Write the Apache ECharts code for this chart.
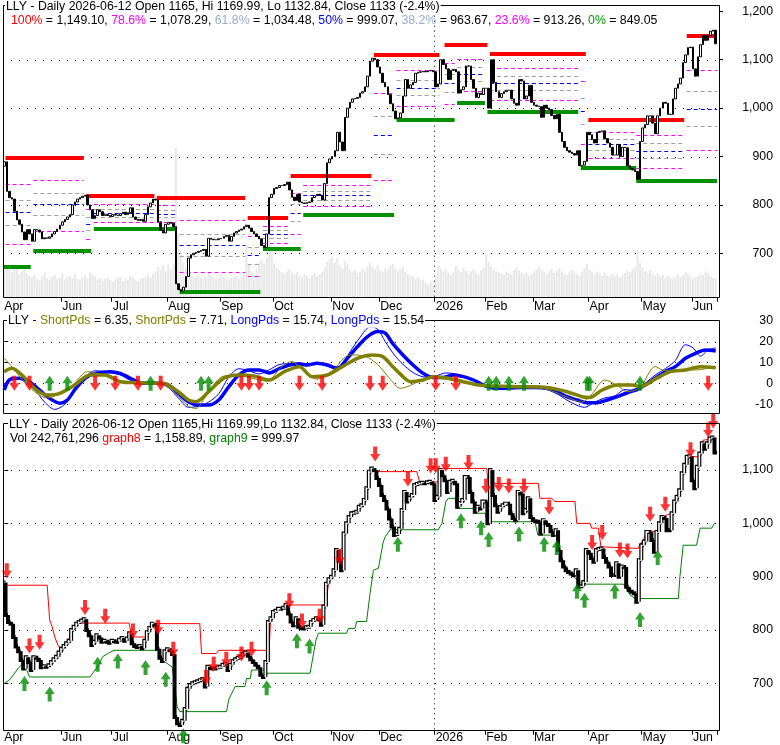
<!DOCTYPE html>
<html>
<head>
<meta charset="utf-8">
<script src="https://cdn.jsdelivr.net/npm/echarts@6/dist/echarts.min.js"></script>
<style>html,body{margin:0;padding:0;background:#fff}#chart{width:780px;height:745px}</style>
</head>
<body>
<div id="chart"></div>
<script>
// daily closes, 2025-04-29 .. 2026-06-12
var closes = [
  889, 828, 815, 812, 787, 769, 760, 744, 728, 749,
  740, 725, 749, 748, 744, 730, 732, 731, 734, 740,
  745, 750, 758, 765, 770, 775, 780, 800, 806, 812,
  815, 818, 820, 800, 790, 772, 778, 790, 786, 778,
  780, 778, 776, 780, 779, 778, 782, 785, 780, 784,
  794, 775, 770, 768, 770, 766, 780, 796, 804, 812,
  810, 765, 748, 742, 760, 764, 762, 755, 637, 625,
  622, 630, 652, 690, 697, 700, 702, 704, 706, 708,
  694, 731, 729, 728, 728, 730, 731, 735, 737, 725,
  735, 742, 745, 748, 750, 755, 758, 752, 745, 740,
  735, 730, 716, 712, 740, 815, 822, 834, 836, 840,
  840, 842, 847, 831, 816, 809, 822, 806, 804, 803,
  805, 806, 815, 819, 822, 820, 810, 844, 887, 895,
  900, 912, 950, 930, 912, 981, 1000, 1012, 1019, 1020,
  1022, 1031, 1034, 1044, 1066, 1097, 1103, 1100, 1085, 1072,
  1053, 1044, 1028, 1009, 994, 978, 980, 990, 1025, 1059,
  1041, 1048, 1053, 1072, 1074, 1075, 1076, 1075, 1077, 1078,
  1075, 1044, 1050, 1100, 1090, 1081, 1059, 1078, 1080, 1075,
  1031, 1038, 1044, 1087, 1087, 1059, 1041, 1022, 1031, 1028,
  1041, 1041, 1000, 1100, 1053, 1034, 1022, 1030, 1034, 1037,
  1037, 1019, 1010, 1006, 1059, 1056, 1019, 1025, 1047, 1012,
  1006, 1004, 1003, 981, 1006, 1000, 997, 985, 978, 987,
  950, 931, 919, 912, 909, 906, 903, 912, 881, 882,
  890, 950, 945, 935, 928, 950, 952, 953, 937, 928,
  919, 903, 903, 925, 900, 919, 918, 881, 875, 872,
  869, 853, 931, 959, 966, 984, 984, 969, 947, 984,
  1000, 1012, 1010, 987, 987, 1019, 1041, 1050, 1062, 1094,
  1110, 1125, 1126, 1081, 1066, 1106, 1131, 1150, 1140, 1150,
  1159, 1161, 1133
];
var firstOpen = 880;

// volume, millions
var volumes = [
  4.6, 4.1, 3.8, 3.5, 4.4, 3.9, 3.2, 3.6, 4.2, 3.3, 3.0,
  2.8, 3.1, 2.6, 2.4, 2.9, 3.4, 2.7, 2.5, 2.9, 3.1, 2.6, 2.8, 3.3, 2.5, 2.9, 3.0, 2.7, 3.2, 2.6, 2.4, 2.8, 3.0, 2.6, 3.4,
  3.1, 2.9, 2.5, 2.7, 2.3, 2.6, 2.8, 2.4, 2.2, 2.5, 2.7, 2.9, 2.3, 2.6, 2.4, 3.0, 2.8, 2.5, 2.2, 2.6, 2.7, 2.9, 3.1, 2.8, 3.3, 3.6, 4.2,
  3.8, 4.4, 3.6, 4.5, 3.9, 4.6, 20.5, 8.8,
  6.2, 4.8, 4.1, 3.5, 3.2, 3.0, 2.8, 3.1, 2.7, 2.6, 2.9, 3.5, 3.0, 2.7, 2.5, 2.8, 3.2, 2.9, 2.6, 2.4, 2.7, 2.8, 3.0, 2.6, 2.9, 3.3, 7.4,
  4.5, 3.6, 3.2, 3.9, 4.8, 5.2, 4.6, 5.5, 9.3, 6.4, 4.7, 4.1, 3.8, 3.5,
  3.3, 3.6, 3.9, 3.4, 3.1, 3.5, 3.0, 2.8, 3.2, 3.0, 2.7, 3.1, 3.4, 2.9, 3.2, 3.6, 4.2, 4.9, 5.3,
  5.6, 4.8, 5.5, 4.4, 4.0, 5.0, 4.6, 3.9, 3.5, 3.8, 3.4, 3.6, 4.0, 3.7, 4.3, 4.8, 4.2, 3.9, 4.5, 3.8, 3.6, 4.1, 3.9, 4.4,
  4.6, 4.0, 3.6, 3.9, 4.2, 3.5, 3.2, 3.0, 2.9, 2.6, 2.8, 2.4, 2.5, 2.1, 1.8, 2.2, 1.6, 2.8, 4.4,
  4.0, 3.6, 3.9, 3.4, 3.1, 3.5, 4.3, 3.8, 3.5, 4.1, 3.7, 3.3, 3.6, 3.9, 3.4, 3.2, 3.8, 4.2, 5.9, 4.9, 4.2, 3.8, 3.6,
  3.5, 3.3, 3.1, 3.6, 3.4, 3.2, 3.8, 4.1, 3.7, 3.5, 3.2, 3.4, 3.0, 3.3, 3.6, 3.9, 4.2, 3.8, 3.5, 3.3, 3.6, 3.9, 3.4, 3.7, 4.0, 3.6, 3.3, 3.1, 3.5, 3.8, 3.4, 3.2, 3.0, 3.6, 4.1, 4.6,
  3.9, 3.5, 3.2, 3.6, 3.3, 3.0, 3.4, 3.1, 2.9, 3.3, 3.0, 3.2, 2.8, 3.1, 3.4, 3.7, 3.5, 3.9, 4.2, 6.6, 4.8,
  4.1, 3.6, 3.4, 3.8, 3.2, 3.0, 3.3, 2.9, 3.1, 2.7, 3.0, 2.8, 2.6, 2.9, 3.2, 2.8, 3.1, 3.5, 3.3, 2.9, 2.6, 2.8, 3.0, 3.3, 3.1, 3.6, 3.4, 3.0, 2.7, 2.6
];

// month tick labels (bar index where each month starts)
var monthIdx = [0, 23, 43, 65, 86, 107, 130, 149, 171, 191, 210, 232, 253, 273];
var monthNames = ['Apr', 'Jun', 'Jul', 'Aug', 'Sep', 'Oct', 'Nov', 'Dec', '2026', 'Feb', 'Mar', 'Apr', 'May', 'Jun'];
var yearIdx = 171;

// resistance (red) and support (green) levels: [firstBar, lastBar, price]
var redLevels = [[1, 31, 897], [33, 59, 818], [61, 95, 814], [97, 112, 772], [114, 145, 860],
  [147, 172, 1110], [175, 191, 1130], [193, 230, 1112], [232, 269, 975], [271, 282, 1149.1]];
var greenLevels = [[0, 10, 672], [12, 34, 705], [36, 68, 750], [70, 101, 620], [103, 117, 708],
  [119, 154, 780], [156, 178, 975], [180, 190, 1010], [192, 227, 992], [229, 250, 876], [251, 282, 849.05]];
var fibRatios = [0.214, 0.382, 0.5, 0.618, 0.764];
var fibColors = ['#ff00ff', '#a0a0a0', '#0000ff', '#a0a0a0', '#ff00ff'];

// oscillator panel [bar, value]
var longThick = [[0,-3.2],[2,1.6],[6,2.4],[10,0.8],[14,-3.2],[18,-7.2],[22,-9.5],[25,-8],[28,-3],[32,2.4],[36,4.8],[42,5.6],[46,4.8],[50,2.4],[54,0.3],[57,0],[61,0],[65,-0.8],[69,-4.8],[73,-8.8],[77,-10.4],[81,-10.4],[85,-8],[89,-1.6],[93,4],[97,6.4],[101,6.4],[105,5],[109,7],[113,8.8],[117,9.3],[120,8.8],[124,9.6],[128,8.8],[132,7.2],[136,12],[140,17.6],[144,22.4],[148,24.8],[151,24],[154,19],[158,13.6],[162,8.8],[166,4.8],[170,2.8],[174,2.8],[178,4],[182,3.2],[186,1.6],[190,-0.8],[195,-2.4],[203,-2],[211,-2],[215,-2.4],[219,-4],[223,-6.4],[227,-8],[231,-9.3],[235,-9.3],[239,-8],[243,-6.4],[247,-4.5],[251,-2.9],[254,-0.8],[258,2.4],[262,5.6],[266,8],[270,12],[274,14.4],[278,16],[282,15.5]];
var longThin = [[0,-1],[3,3],[7,1.5],[12,-3],[16,-9],[20,-12.5],[24,-10],[28,-3],[32,3],[36,6],[40,5.5],[46,4],[50,1.5],[55,0],[61,0.2],[65,-2],[69,-7],[73,-11.5],[77,-11],[81,-9],[85,-5],[89,3],[93,7],[97,6],[101,4.5],[105,6.5],[109,9],[113,9.5],[117,9.8],[121,9],[125,9.5],[129,8],[133,8],[137,15],[141,22],[145,27],[148,26],[151,20],[155,13],[159,8],[163,4.5],[167,3],[171,3.5],[175,5],[179,4.5],[183,3],[187,0.5],[191,-2],[197,-3],[205,-2.5],[213,-2.5],[219,-5],[223,-8],[227,-10.5],[230,-11.5],[234,-9],[238,-7],[242,-6],[246,-3],[250,-3.5],[254,0],[258,4],[262,7],[266,11],[270,18.5],[273,17],[276,13],[279,16],[282,17]];
var shortThick = [[0,5.6],[3,7.2],[7,4],[12,-2.4],[17,-5.6],[22,-4.8],[28,-0.8],[34,4],[40,4],[46,0.8],[53,0.3],[63,0],[69,-4],[73,-8],[76,-8.8],[81,-4],[87,2.4],[93,4],[99,3.5],[105,1.6],[111,5.6],[117,8],[122,3.2],[128,4],[134,8],[140,12],[146,13.6],[150,12.8],[154,8],[158,3.2],[161,0.8],[166,1.6],[170,3.2],[176,2.4],[182,0.8],[188,-0.8],[195,-1.3],[205,-1.6],[215,-2],[223,-4],[229,-6.4],[232,-6.8],[237,-3.2],[243,-0.8],[249,-0.8],[252,-1.6],[258,2],[264,5.6],[270,6.4],[276,8],[282,7.5]];
var shortThin = [[0,12],[3,8],[7,2],[12,-4],[17,-7],[22,-5],[27,-1],[33,5.6],[39,4],[45,1],[52,0.5],[62,0],[68,-5],[73,-11],[76,-12],[80,-6],[86,3],[92,4],[98,2.5],[104,1],[110,8],[114,10.4],[118,7],[124,2],[130,6],[137,13.6],[143,13],[148,9],[153,2],[157,-2.4],[161,-1],[166,2],[171,3],[177,1.5],[183,0],[190,-1],[200,-1.5],[212,-2],[220,-5],[226,-8],[229,-9],[233,-5],[238,1.6],[243,-1],[247,-4],[252,-2],[258,8],[262,6],[268,6.5],[274,6.4],[278,7],[282,8]];
var oscSell = [4, 10, 36, 44, 53, 62, 94, 97, 101, 117, 126, 145, 150, 171, 179, 279];
var oscBuy = [18, 25, 58, 78, 81, 192, 195, 200, 206, 231, 232, 252];

// bottom panel trailing lines [bar, price]
var graph8 = [[0,884],[17,884],[18,819],[19,806],[20,787],[21.5,769],[23,766],[25,776],[27,801],[29,812],[32,813],[49.5,813],[50.5,787],[56.5,787],[57.5,797],[59,812],[77.5,812],[78.2,756],[84,756],[85,762],[105,762],[105.5,816],[107,835],[109,841],[112.5,847],[126.5,847],[127.5,846],[128.5,888],[130,901],[131.5,925],[132.5,951],[134,952],[135,982],[136.5,1013],[138,1020],[140,1023],[141.5,1032],[143,1045],[144,1067],[145,1097],[163.5,1097],[164.8,1075],[172,1078],[172.7,1103],[191.2,1103],[191.8,1075],[211.7,1075],[212.3,1047],[217,1047],[218.3,1041],[226.2,1041],[226.9,1000],[232.2,1000],[232.8,991],[235.5,991],[236.5,956],[251.3,953],[252,962],[253.3,967],[254.5,985],[259,985],[261,1013],[265,1020],[266.5,1042],[268,1063],[269,1095],[270.5,1125],[275.8,1125],[277,1156],[282,1159]];
var graph9 = [[0,700],[2,706],[3,712],[5,725],[6,731],[7.6,737],[9,724],[10,712],[34,712],[35.5,722],[37,731],[39,750],[41,756],[43.5,762],[61.7,762],[62.5,744],[66.5,731],[67.5,700],[68.5,656],[69.6,647],[88.1,647],[89,670],[91.5,694],[95.4,694],[96,709],[97.5,709],[98,725],[103.3,725],[104,719],[121.2,719],[122,740],[123.5,780],[124.5,794],[135.7,794],[136.4,803],[139,803],[139.7,816],[143.6,816],[145,869],[146.3,912],[148.3,916],[150.2,965],[151,975],[152.9,988],[172,988],[173.5,1000],[175,1040],[176,1047],[178.7,1047],[179.3,1028],[186.6,1028],[187,1019],[190.5,1019],[191.5,1003],[208.5,1003],[209.5,1006],[210.5,1000],[211.5,978],[219,978],[220,950],[221,931],[222.5,919],[224,905],[227,895],[229,886],[245.4,886],[246.5,878],[248,866],[250,859],[267.2,859],[267.8,900],[269.1,959],[274.4,959],[275.8,991],[280.4,991],[281.5,1000],[282,1000]];
// arrows [bar, tip price]
var sellArrows = [[1,897],[10,756],[14,763],[32,828],[40,812],[51,784],[61,791],[67,750],[80,697],[83,722],[88,731],[94,741],[98,750],[113,841],[118,803],[125,812],[133,922],[147,1116],[160,1069],[169,1094],[171,1094],[175,1097],[184,1100],[191,1056],[196,1059],[200,1056],[206,1056],[216,1016],[233,950],[237,969],[244,936],[247,934],[256,1003],[262,1022],[272,1124],[279,1161],[281,1178]];
var buyArrows = [[8,714],[18,694],[37,750],[45,756],[56,744],[64,722],[71,616],[104,706],[116,794],[121,784],[156,975],[181,1019],[189,1006],[192,984],[204,994],[214,975],[219,969],[227,887],[230,870],[242,887],[252,834],[259,950]];

var priceTicks = [700, 800, 900, 1000, 1100];
var oscTicks = [-10, 0, 10, 20];
var oscAxisLabels = [-10, 0, 10, 20, 30];

var N = closes.length;
var font = "'Liberation Sans', Arial, sans-serif";
var cats = closes.map(function (c, i) { return i; });
var candleData = closes.map(function (c, i) {
  var o = i ? closes[i - 1] : firstOpen;
  return [o, c, Math.min(o, c), Math.max(o, c)];
});
var stepData = closes.map(function (c, i) { return [i, c, i ? closes[i - 1] : firstOpen]; });

var fibData = [];
redLevels.forEach(function (r) {
  greenLevels.forEach(function (g) {
    var s = Math.max(r[0], g[0]), e = Math.min(r[1], g[1]);
    if (s <= e) {
      fibRatios.forEach(function (k, n) {
        fibData.push([s, e, g[2] + k * (r[2] - g[2]), n]);
      });
    }
  });
});

function fmt(v) {
  return v >= 1000 ? Math.floor(v / 1000) + ',' + ('00' + (v % 1000)).slice(-3) : String(v);
}

/* 水平点线 */
function hGrid(params, api) {
  var cs = params.coordSys;
  var y = Math.round(api.coord([0, api.value(1)])[1]) + 0.5;
  return {type: 'line', shape: {x1: cs.x, y1: y, x2: cs.x + cs.width + 2, y2: y},
    style: {stroke: '#000', lineWidth: 1, lineDash: [1, 7]}};
}
/* 年份竖线 */
function vGrid(params, api) {
  var cs = params.coordSys;
  var w = api.size([1, 0])[0];
  var p = api.coord([api.value(0), api.value(1)]);
  var x = Math.round(p[0] - w / 2) + 0.5;
  return {type: 'line', shape: {x1: x, y1: cs.y, x2: x, y2: p[1]},
    style: {stroke: '#000', lineWidth: 1, lineDash: [1, 4]}};
}
function segItem(width, colorOf, dash) {
  return function (params, api) {
    var w = api.size([1, 0])[0];
    var p1 = api.coord([api.value(0), api.value(2)]);
    var p2 = api.coord([api.value(1), api.value(2)]);
    var y = width % 2 ? Math.round(p1[1]) + 0.5 : Math.round(p1[1]);
    return {type: 'line', shape: {x1: p1[0] - w / 2, y1: y, x2: p2[0] + w / 2, y2: y},
      style: {stroke: colorOf(api.value(3)), lineWidth: width, lineDash: dash}};
  };
}
/* 收盘价阶梯线 */
function stepItem(params, api) {
  var j = api.value(0), c = api.value(1), p = api.value(2);
  var w = api.size([1, 0])[0];
  var pc = api.coord([j, c]), pp = api.coord([j, p]);
  var xl = pc[0] - w / 2, xr = pc[0] + w / 2;
  var pts = [[xl, pp[1]], [xl, pc[1]], [xr, pc[1]]];
  var kids = [{type: 'polyline', shape: {points: pts}, style: {stroke: '#000', lineWidth: 4, fill: 'none', lineJoin: 'miter'}}];
  if (c > p) {
    kids.push({type: 'polyline', shape: {points: pts}, style: {stroke: '#fff', lineWidth: 1.6, fill: 'none', lineJoin: 'miter'}});
  }
  return {type: 'group', children: kids};
}

function monthAxis(g, margin) {
  return {
    type: 'category', gridIndex: g, data: cats, boundaryGap: true,
    axisLine: {show: false},
    axisTick: {show: true, length: 4, alignWithLabel: false, lineStyle: {color: '#000'},
      interval: function (i) { return monthIdx.indexOf(i) > 0; }},
    axisLabel: {show: true, align: 'left', margin: margin, color: '#000', fontSize: 12.3, fontFamily: font,
      interval: function (i) { return monthIdx.indexOf(i) >= 0; },
      formatter: function (v) { var k = monthIdx.indexOf(Number(v)); return k >= 0 ? monthNames[k] : ''; }},
    splitLine: {show: false}
  };
}
function rightAxis(g, min, max, step, labels) {
  return {
    type: 'value', gridIndex: g, min: min, max: max, interval: step,
    position: 'right', offset: 2,
    axisLine: {show: false},
    axisTick: {show: true, length: 4, customValues: labels, lineStyle: {color: '#000'}},
    axisLabel: {customValues: labels, align: 'right', margin: 54, color: '#000', fontSize: 12.3, fontFamily: font,
      formatter: function (v) { return labels.indexOf(v) >= 0 ? fmt(v) : ''; }},
    splitLine: {show: false}
  };
}

var downArrow = 'path://M3,0L7,0L7,7L10,7L5,14L0,7L3,7Z';
var upArrow = 'path://M5,0L10,7L7,7L7,14L3,14L3,7L0,7Z';

var chart = echarts.init(document.getElementById('chart'));
var option = {
  animation: false,
  backgroundColor: '#fff',
  textStyle: {fontFamily: font},
  grid: [
    {left: 3, top: 11.3, width: 714, height: 290.4},
    {left: 3, top: 5.7, width: 714, height: 292},
    {left: 3, top: 320.7, width: 714, height: 104.4},
    {left: 3, top: 416.7, width: 714, height: 320},
    {left: 3, top: 423.3, width: 714, height: 307.4}
  ],
  xAxis: [
    {type: 'category', gridIndex: 0, data: cats, show: false},
    monthAxis(1, 3),
    {type: 'value', gridIndex: 2, min: -0.5, max: N - 0.5, show: false},
    {type: 'value', gridIndex: 3, min: -0.5, max: N - 0.5, show: false},
    monthAxis(4, 1)
  ],
  yAxis: [
    rightAxis(0, 600, 1200, 100, [700, 800, 900, 1000, 1100, 1200]),
    {type: 'value', gridIndex: 1, min: 0, max: 40, show: false},
    rightAxis(2, -20, 30, 10, oscAxisLabels),
    rightAxis(3, 600, 1200, 100, [700, 800, 900, 1000, 1100]),
    {type: 'value', gridIndex: 4, min: 0, max: 1, show: false}
  ],
  graphic: [
    {type: 'rect', z: 50, shape: {x: 3.5, y: 5.5, width: 716, height: 292}, style: {fill: 'none', stroke: '#000', lineWidth: 1}},
    {type: 'rect', z: 50, shape: {x: 3.5, y: 320.5, width: 716, height: 93}, style: {fill: 'none', stroke: '#000', lineWidth: 1}},
    {type: 'rect', z: 50, shape: {x: 3.5, y: 423.5, width: 716, height: 307}, style: {fill: 'none', stroke: '#000', lineWidth: 1}},
    {type: 'text', z: 100, x: 5, y: 6.5, style: {
      text: 'LLY - Daily 2026-06-12 Open 1165, Hi 1169.99, Lo 1132.84, Close 1133 (-2.4%)',
      font: '12.3px ' + font, fill: '#000', backgroundColor: '#fff', padding: [1, 1, 1, 1],
      align: 'left', verticalAlign: 'middle', textAlign: 'left', textVerticalAlign: 'middle'}},
    {type: 'text', z: 100, x: 11, y: 20.5, style: {
      text: '{r|100%} = 1,149.10, {m|78.6%} = 1,078.29, {s|61.8%} = 1,034.48, {b|50%} = 999.07, {s|38.2%} = 963.67, {m|23.6%} = 913.26, {g|0%} = 849.05',
      font: '12.3px ' + font, fill: '#000',
      rich: {r: {fill: '#ff0000'}, m: {fill: '#ff00ff'}, s: {fill: '#9aaad0'}, b: {fill: '#0000ff'}, g: {fill: '#00a000'}},
      align: 'left', verticalAlign: 'middle', textAlign: 'left', textVerticalAlign: 'middle'}},
    {type: 'text', z: 100, x: 7, y: 320.7, style: {
      text: 'LLY - {o|ShortPds} = 6.35, {o|ShortPds} = 7.71, {b|LongPds} = 15.74, {b|LongPds} = 15.54',
      font: '12.3px ' + font, fill: '#000', backgroundColor: '#fff', padding: [1, 1, 1, 1],
      rich: {o: {fill: '#808000'}, b: {fill: '#0000ff'}},
      align: 'left', verticalAlign: 'middle', textAlign: 'left', textVerticalAlign: 'middle'}},
    {type: 'text', z: 100, x: 8, y: 424.6, style: {
      text: 'LLY - Daily 2026-06-12 Open 1165,Hi 1169.99,Lo 1132.84, Close 1133 (-2.4%)',
      font: '12.3px ' + font, fill: '#000', backgroundColor: '#fff', padding: [1, 1, 1, 1],
      align: 'left', verticalAlign: 'middle', textAlign: 'left', textVerticalAlign: 'middle'}},
    {type: 'text', z: 100, x: 10, y: 438.3, style: {
      text: 'Vol 242,761,296 {r|graph8} = 1,158.89, {g|graph9} = 999.97',
      font: '12.3px ' + font, fill: '#000',
      rich: {r: {fill: '#ff0000'}, g: {fill: '#008000'}},
      align: 'left', verticalAlign: 'middle', textAlign: 'left', textVerticalAlign: 'middle'}}
  ],
  series: [
    {type: 'bar', xAxisIndex: 1, yAxisIndex: 1, data: volumes, barWidth: 2, silent: true, z: 0,
      itemStyle: {color: '#e8e8e8'}},
    {type: 'custom', xAxisIndex: 0, yAxisIndex: 0, renderItem: hGrid, encode: {x: 0, y: 1}, silent: true, z: 1,
      data: priceTicks.map(function (v) { return [0, v]; })},
    {type: 'custom', xAxisIndex: 1, yAxisIndex: 1, renderItem: vGrid, encode: {x: 0, y: 1}, silent: true, z: 1,
      data: [[yearIdx, 0]]},
    {type: 'custom', xAxisIndex: 0, yAxisIndex: 0, encode: {x: [0, 1], y: 2}, silent: true, clip: true, z: 3,
      renderItem: segItem(1, function (n) { return fibColors[n]; }, [4, 3]), data: fibData},
    {type: 'custom', xAxisIndex: 0, yAxisIndex: 0, encode: {x: [0, 1], y: 2}, silent: true, clip: true, z: 3,
      renderItem: segItem(4, function () { return '#ff0000'; }, null), data: redLevels},
    {type: 'custom', xAxisIndex: 0, yAxisIndex: 0, encode: {x: [0, 1], y: 2}, silent: true, clip: true, z: 3,
      renderItem: segItem(4, function () { return '#009000'; }, null), data: greenLevels},
    {type: 'candlestick', xAxisIndex: 0, yAxisIndex: 0, data: candleData, barWidth: 2, silent: true, z: 4,
      itemStyle: {color: '#fff', color0: '#000', borderColor: '#000', borderColor0: '#000', borderWidth: 1}},

    {type: 'custom', xAxisIndex: 2, yAxisIndex: 2, renderItem: hGrid, encode: {x: 0, y: 1}, silent: true, z: 1,
      data: oscTicks.map(function (v) { return [0, v]; })},
    {type: 'custom', xAxisIndex: 2, yAxisIndex: 2, renderItem: vGrid, encode: {x: 0, y: 1}, silent: true, z: 1,
      data: [[yearIdx, -14.4]]},
    {type: 'line', xAxisIndex: 2, yAxisIndex: 2, data: longThin, smooth: 0.3, showSymbol: false, silent: true,
      lineStyle: {color: '#0000ff', width: 1}},
    {type: 'line', xAxisIndex: 2, yAxisIndex: 2, data: longThick, smooth: 0.3, showSymbol: false, silent: true,
      lineStyle: {color: '#0000ff', width: 3.5}},
    {type: 'line', xAxisIndex: 2, yAxisIndex: 2, data: shortThin, smooth: 0.3, showSymbol: false, silent: true,
      lineStyle: {color: '#808000', width: 1}},
    {type: 'line', xAxisIndex: 2, yAxisIndex: 2, data: shortThick, smooth: 0.3, showSymbol: false, silent: true,
      lineStyle: {color: '#808000', width: 3.5}},
    {type: 'scatter', xAxisIndex: 2, yAxisIndex: 2, symbol: downArrow, symbolSize: [10, 15], silent: true, z: 5,
      itemStyle: {color: '#ff0000'}, data: oscSell.map(function (j) { return [j, 0]; })},
    {type: 'scatter', xAxisIndex: 2, yAxisIndex: 2, symbol: upArrow, symbolSize: [10, 15], silent: true, z: 5,
      itemStyle: {color: '#008c00'}, data: oscBuy.map(function (j) { return [j, 0]; })},

    {type: 'custom', xAxisIndex: 3, yAxisIndex: 3, renderItem: hGrid, encode: {x: 0, y: 1}, silent: true, z: 1,
      data: priceTicks.map(function (v) { return [0, v]; })},
    {type: 'custom', xAxisIndex: 4, yAxisIndex: 4, renderItem: vGrid, encode: {x: 0, y: 1}, silent: true, z: 1,
      data: [[yearIdx, 0]]},
    {type: 'line', xAxisIndex: 3, yAxisIndex: 3, data: graph8, showSymbol: false, silent: true,
      lineStyle: {color: '#ff0000', width: 1}},
    {type: 'line', xAxisIndex: 3, yAxisIndex: 3, data: graph9, showSymbol: false, silent: true,
      lineStyle: {color: '#008000', width: 1}},
    {type: 'custom', xAxisIndex: 3, yAxisIndex: 3, renderItem: stepItem, encode: {x: 0, y: [1, 2]}, silent: true,
      clip: true, z: 4, data: stepData},
    {type: 'scatter', xAxisIndex: 3, yAxisIndex: 3, symbol: downArrow, symbolSize: [10, 15], symbolOffset: [0, -7.5],
      silent: true, z: 5, itemStyle: {color: '#ff0000'}, data: sellArrows},
    {type: 'scatter', xAxisIndex: 3, yAxisIndex: 3, symbol: upArrow, symbolSize: [10, 15], symbolOffset: [0, 7.5],
      silent: true, z: 5, itemStyle: {color: '#008c00'}, data: buyArrows}
  ]
};
chart.setOption(option);
</script>
</body>
</html>
